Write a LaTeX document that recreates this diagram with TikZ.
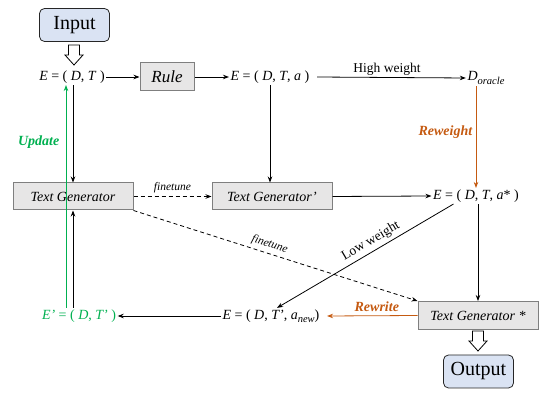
\documentclass[tikz,border=0pt]{standalone}
\usepackage{fontspec}
\setmainfont{Liberation Serif}
\usetikzlibrary{arrows.meta}
\definecolor{cgreen}{HTML}{00B050}
\definecolor{corange}{HTML}{C55A11}
\definecolor{boxfill}{HTML}{E7E6E6}
\definecolor{boxline}{HTML}{7F7F7F}
\definecolor{bluefill}{HTML}{DAE3F3}
\begin{document}
\begin{tikzpicture}[x=1pt,y=-1pt,
  gbox/.style={draw=boxline,fill=boxfill,line width=1pt,minimum width=120pt,minimum height=27pt,inner sep=0pt,font=\fontsize{14}{16}\selectfont\itshape},
  bbox/.style={draw=black!85,fill=bluefill,rounded corners=5pt,line width=0.8pt,minimum width=70pt,minimum height=33pt,inner sep=0pt,font=\fontsize{20}{22}\selectfont},
  expr/.style={inner sep=1.5pt,font=\fontsize{14}{16}\selectfont},
  arr/.style={-{Stealth[length=6pt,width=4.5pt]},line width=0.8pt},
  darr/.style={arr,dashed,dash pattern=on 4pt off 3pt},
  lbl/.style={font=\fontsize{13.5}{15}\selectfont},
  slbl/.style={font=\fontsize{11.5}{13}\selectfont\itshape},
  blbl/.style={font=\fontsize{14}{16}\selectfont\bfseries\itshape},
  hollowarrow/.pic={\draw[line width=0.8pt,fill=white] (-5.5,0) -- (5.5,0) -- (5.5,10) -- (9,10) -- (0,20) -- (-9,10) -- (-5.5,10) -- cycle;}
]
\useasboundingbox (0,0) rectangle (550,403);

% nodes
\node[bbox] (in) at (74.5,25) {Input};
\node[bbox] (out) at (478.5,371.5) {Output};
\node[expr] (e1) at (72,77) {\textit{E} = ( \textit{D}, \textit{T} )};
\node[gbox,minimum width=54pt,minimum height=28pt,font=\fontsize{17}{19}\selectfont\itshape] (rule) at (167,77) {Rule};
\node[expr] (e2) at (270,77) {\textit{E} = ( \textit{D}, \textit{T}, \textit{a} )};
\node[expr] (dor) at (486,78) {\textit{D}\raisebox{-3.5pt}{\fontsize{10.5}{12}\selectfont\itshape oracle}};
\node[gbox] (tg) at (73,196.5) {Text Generator};
\node[gbox] (tg2) at (272,196.5) {Text Generator’};
\node[expr] (e3) at (476,196) {\textit{E} = ( \textit{D}, \textit{T}, \textit{a}* )};
\node[expr,text=cgreen] (e4) at (79,316) {\textit{E’} = ( \textit{D}, \textit{T’} )};
\node[expr] (e5) at (271,316) {\textit{E} = ( \textit{D}, \textit{T’}, \textit{a}\raisebox{-3pt}{\fontsize{10.5}{12}\selectfont\itshape new})};
\node[gbox,minimum height=28pt] (tgs) at (478,315.5) {Text Generator *};

% hollow arrows
\pic at (74,45) {hollowarrow};
\pic at (478,331) {hollowarrow};

% connectors
\draw[arr] (e1.east) -- (rule.west);
\draw[arr] (rule.east) -- (e2.west);
\draw[arr] ([xshift=6pt]e2.east) -- node[lbl,above,pos=0.47,inner sep=2pt] {High weight} (dor.west);
\draw[arr,corange] (e3.north |- dor.south) -- node[blbl,left,text=corange,pos=0.45] {Reweight} (e3.north);
\draw[arr] (e1.south -| tg.north) -- (tg.north);
\draw[arr,cgreen] (e4.north -| 66,0) -- node[blbl,left,text=cgreen,pos=0.745,xshift=-3pt] {Update} (e1.south -| 66,0);
\draw[arr] (e4.north -| tg.south) -- (tg.south);
\draw[arr] (e2.south) -- (e2.south |- tg2.north);
\draw[darr] (tg.east) -- node[slbl,above] {finetune} (tg2.west);
\draw[arr] (tg2.east) -- (e3.west);
\draw[darr] (tg.south east) -- node[slbl,above,sloped,pos=0.47] {finetune} (tgs.north west);
\draw[arr] (e3.south -| tgs.north) -- (tgs.north);
\draw[arr] ([xshift=22pt]e3.south west) -- node[lbl,above,sloped,pos=0.44] {Low weight} ([xshift=6pt]e5.north);
\draw[arr,corange] (tgs.west) -- node[blbl,above,text=corange,pos=0.45] {Rewrite} ([xshift=6pt]e5.east);
\draw[arr] (e5.west) -- (e4.east);
\end{tikzpicture}
\end{document}
